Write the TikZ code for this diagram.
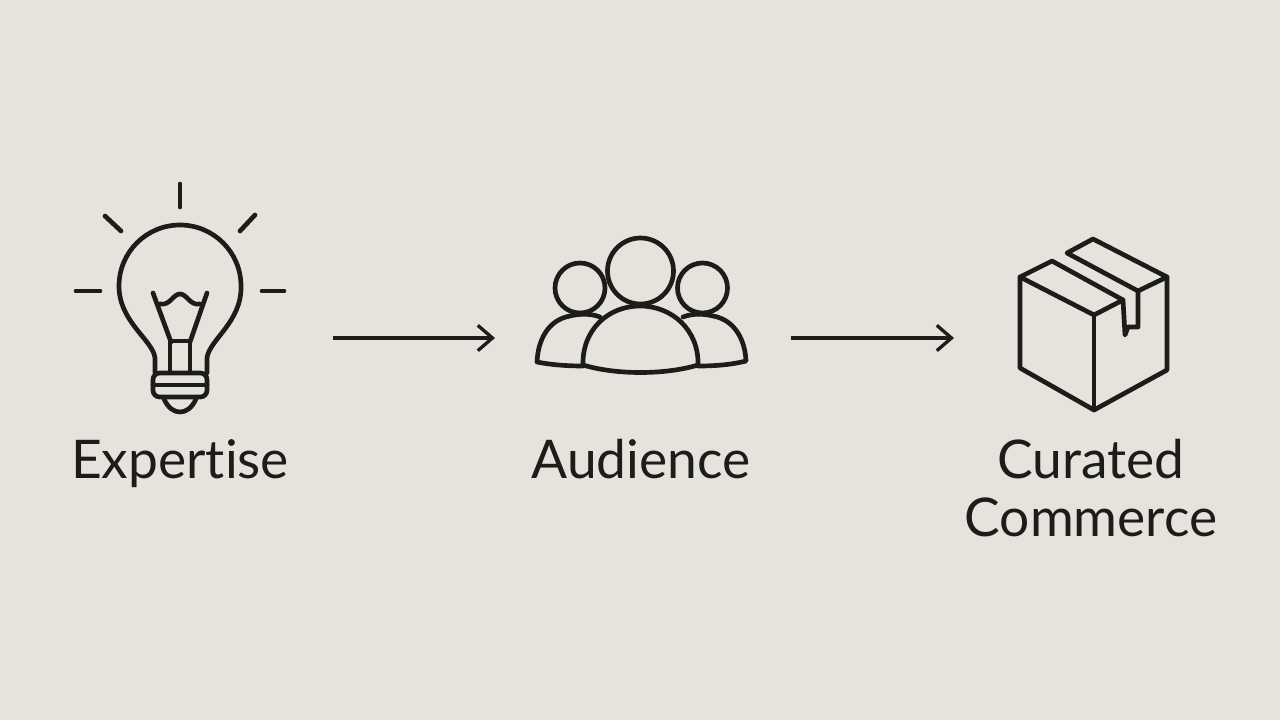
\documentclass[tikz,border=0pt]{standalone}
\usepackage{fontspec}
\setmainfont{Lato}[Ligatures=CommonOff]
\usetikzlibrary{arrows.meta, positioning}
\definecolor{paper}{HTML}{E6E3DC}
\definecolor{ink}{HTML}{1C1C1A}
\tikzset{
	icon/.style={draw=ink, line width=3.5pt, line join=round, line cap=round},
	flow/.style={draw=ink, line width=2.7pt, -{Straight Barb[length=11pt, width=19pt, line width=2.5pt]}},
	slot/.style={minimum height=60pt, inner sep=0pt, outer sep=0pt},
	caption/.style={text=ink, font=\fontsize{40}{43.5}\selectfont, align=center, inner sep=0pt, anchor=base}
}
\begin{document}
\begin{tikzpicture}[x=0.75pt, y=-0.75pt]
	\useasboundingbox[fill=paper] (0,0) rectangle (1280,720);
	% icon slots, the arrows run between them
	\node[slot, minimum width=229.5pt] (bulb) at (180,338) {};
	\node[slot, minimum width=222pt] (crowd) at (643,338) {};
	\node[slot, minimum width=210pt] (parcel) at (1094,338) {};
	% bulb rays
	\foreach \a/\b/\c/\d in {180/184/180/207, 105/216/121/231, 255/215/240/231, 76/291/100/291, 262/291/284/291} {
		\draw[icon] (\a,\b) -- (\c,\d);
	}
	% bulb glass
	\draw[icon] (155,373) -- (155,358) .. controls (153,340) and (119,322) .. (119,286)
		arc (180:360:61) .. controls (242,322) and (209,340) .. (207,358) -- (207,373);
	% filament
	\draw[icon] (153,293) -- (171,342);
	\draw[icon] (207,293) -- (190,342);
	\draw[icon] (160,304) .. controls (170,306) and (173,294) .. (180,294) .. controls (187,294) and (190,306) .. (200,304);
	\draw[icon] (170,372) -- (170,341) -- (190,341) -- (190,372);
	% bulb base
	\draw[icon, rounded corners=5pt] (153,373) -- (207,373) -- (207,397) -- (153,397) -- cycle;
	\draw[icon] (153,385) -- (207,385);
	\draw[icon] (164,399) .. controls (168,408) and (174,412) .. (180,412) .. controls (186,412) and (192,408) .. (196,399);
	% crowd
	\draw[icon] (640.5,271) circle (33);
	\draw[icon] (580,288) circle (25);
	\draw[icon] (702.5,288) circle (25);
	\draw[icon] (600,317) .. controls (590,313) and (578,314) .. (570,316) .. controls (548,320) and (538,340) .. (537,362) .. controls (552,365) and (568,366) .. (583,366);
	\draw[icon] (683,317) .. controls (693,313) and (705,314) .. (713,316) .. controls (735,320) and (745,340) .. (746,361) .. controls (730,365) and (714,366) .. (698,366);
	\draw[icon] (583,365) .. controls (582,330) and (608,306) .. (640,306) .. controls (672,306) and (699,330) .. (698,365) .. controls (665,375) and (616,375) .. (583,365) -- cycle;
	% parcel
	\draw[icon] (1020,277) -- (1020,368) -- (1094,410) -- (1167,370) -- (1167,277);
	\draw[icon] (1094,315) -- (1094,410);
	\draw[icon] (1020,277) -- (1052,261) -- (1123,300) -- (1094,315) -- cycle;
	\draw[icon] (1067,253) -- (1093,239) -- (1167,277) -- (1138,291) -- cycle;
	\draw[icon] (1123,300) -- (1125,335) -- (1128,327) -- (1138,327) -- (1138,291);
	% arrows
	\draw[flow] (bulb.east) -- (crowd.west);
	\draw[flow] (crowd.east) -- (parcel.west);
	% captions
	\node[caption] (expertise) at (180,478) {Expertise};
	\node[caption] (audience) at (641,478) {Audience};
	\node[caption] (curated) at (1091,536) {Curated\\Commerce};
\end{tikzpicture}
\end{document}
